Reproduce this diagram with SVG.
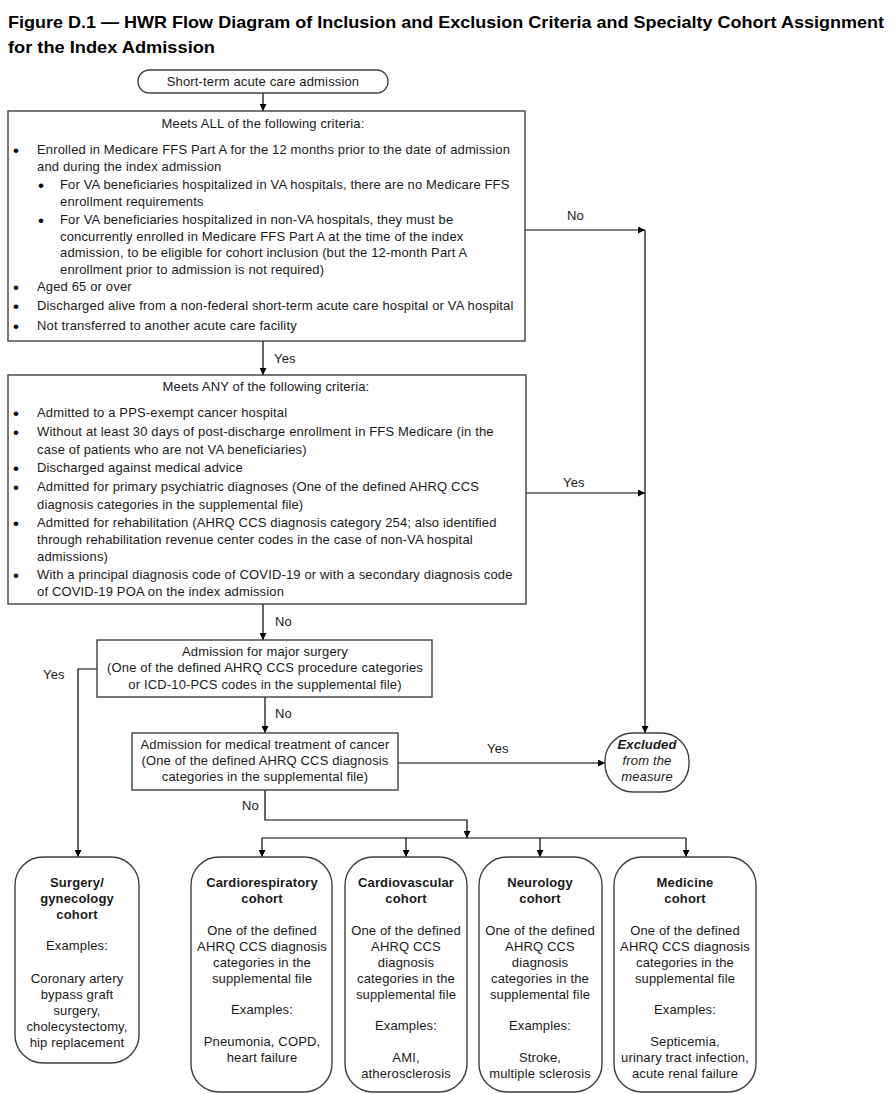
<svg xmlns="http://www.w3.org/2000/svg" width="893" height="1094" viewBox="0 0 893 1094">
<style>
text{font-family:"Liberation Sans",Arial,sans-serif;font-size:13px;letter-spacing:0.15px;fill:#1a1a1a}
.t{font-weight:bold;font-size:17px;letter-spacing:0;fill:#000}
.c{text-anchor:middle}
.b{font-weight:bold}
.i{font-style:italic}
.u{font-size:17px;letter-spacing:0;fill:#000;text-anchor:middle}
.box{fill:#fff;stroke:#404040;stroke-width:1.4}
.ln{fill:none;stroke:#000;stroke-width:1.2}
</style>
<defs>
<marker id="ah" viewBox="0 0 10 10" refX="10" refY="5" markerWidth="7" markerHeight="7" markerUnits="userSpaceOnUse" orient="auto"><path d="M0,0L10,5L0,10z" fill="#000"/></marker>
</defs>
<rect width="893" height="1094" fill="#fff"/>
<g id="title">
<text class="t" x="8" y="28" textLength="876" lengthAdjust="spacingAndGlyphs">Figure D.1 — HWR Flow Diagram of Inclusion and Exclusion Criteria and Specialty Cohort Assignment</text>
<text class="t" x="8" y="53" textLength="207" lengthAdjust="spacingAndGlyphs">for the Index Admission</text>
</g>
<g id="connectors">
<path class="ln" d="M263,93V111" marker-end="url(#ah)"/>
<path class="ln" d="M525,230H645" marker-end="url(#ah)"/>
<path class="ln" d="M645,230V733" marker-end="url(#ah)"/>
<path class="ln" d="M263,341V375" marker-end="url(#ah)"/>
<path class="ln" d="M526,493H645" marker-end="url(#ah)"/>
<path class="ln" d="M263,604V640" marker-end="url(#ah)"/>
<path class="ln" d="M97,669H78V857" marker-end="url(#ah)"/>
<path class="ln" d="M265,697V733" marker-end="url(#ah)"/>
<path class="ln" d="M398,763H605" marker-end="url(#ah)"/>
<path class="ln" d="M265,790V820H467V838" marker-end="url(#ah)"/>
<path class="ln" d="M262,838H686"/>
<path class="ln" d="M262,838V857" marker-end="url(#ah)"/>
<path class="ln" d="M406,838V857" marker-end="url(#ah)"/>
<path class="ln" d="M540,838V857" marker-end="url(#ah)"/>
<path class="ln" d="M686,838V857" marker-end="url(#ah)"/>
<text x="567" y="220">No</text>
<text x="274" y="363">Yes</text>
<text x="563" y="487">Yes</text>
<text x="275" y="626">No</text>
<text x="43" y="679">Yes</text>
<text x="275" y="718">No</text>
<text x="487" y="753">Yes</text>
<text x="242" y="810">No</text>
</g>
<g id="start">
<rect class="box" x="138" y="70" width="250" height="23" rx="11.5"/>
<text class="c" x="263" y="86">Short-term acute care admission</text>
</g>
<g id="all-criteria">
<rect class="box" x="8" y="111" width="517" height="230"/>
<text class="c" x="263" y="128">Meets ALL of the following criteria:</text>
<text class="u" x="16" y="156">•</text>
<text x="37" y="154">Enrolled in Medicare FFS Part A for the 12 months prior to the date of admission</text>
<text x="37" y="171">and during the index admission</text>
<text class="u" x="41" y="191">•</text>
<text x="60" y="189">For VA beneficiaries hospitalized in VA hospitals, there are no Medicare FFS</text>
<text x="60" y="206">enrollment requirements</text>
<text class="u" x="41" y="226">•</text>
<text x="60" y="224">For VA beneficiaries hospitalized in non-VA hospitals, they must be</text>
<text x="60" y="241">concurrently enrolled in Medicare FFS Part A at the time of the index</text>
<text x="60" y="257">admission, to be eligible for cohort inclusion (but the 12-month Part A</text>
<text x="60" y="274">enrollment prior to admission is not required)</text>
<text class="u" x="16" y="293">•</text>
<text x="37" y="291">Aged 65 or over</text>
<text class="u" x="16" y="312">•</text>
<text x="37" y="310">Discharged alive from a non-federal short-term acute care hospital or VA hospital</text>
<text class="u" x="16" y="332">•</text>
<text x="37" y="330">Not transferred to another acute care facility</text>
</g>
<g id="any-criteria">
<rect class="box" x="8" y="375" width="518" height="229"/>
<text class="c" x="266" y="391">Meets ANY of the following criteria:</text>
<text class="u" x="16" y="419">•</text>
<text x="37" y="417">Admitted to a PPS-exempt cancer hospital</text>
<text class="u" x="16" y="438">•</text>
<text x="37" y="436">Without at least 30 days of post-discharge enrollment in FFS Medicare (in the</text>
<text x="37" y="454">case of patients who are not VA beneficiaries)</text>
<text class="u" x="16" y="474">•</text>
<text x="37" y="472">Discharged against medical advice</text>
<text class="u" x="16" y="493">•</text>
<text x="37" y="491">Admitted for primary psychiatric diagnoses (One of the defined AHRQ CCS</text>
<text x="37" y="509">diagnosis categories in the supplemental file)</text>
<text class="u" x="16" y="529">•</text>
<text x="37" y="527">Admitted for rehabilitation (AHRQ CCS diagnosis category 254; also identified</text>
<text x="37" y="544">through rehabilitation revenue center codes in the case of non-VA hospital</text>
<text x="37" y="561">admissions)</text>
<text class="u" x="16" y="581">•</text>
<text x="37" y="579">With a principal diagnosis code of COVID-19 or with a secondary diagnosis code</text>
<text x="37" y="596">of COVID-19 POA on the index admission</text>
</g>
<g id="surgery">
<rect class="box" x="97" y="640" width="335" height="57"/>
<text class="c" x="265" y="656">Admission for major surgery</text>
<text class="c" x="265" y="672">(One of the defined AHRQ CCS procedure categories</text>
<text class="c" x="265" y="689">or ICD-10-PCS codes in the supplemental file)</text>
</g>
<g id="cancer">
<rect class="box" x="132" y="733" width="266" height="57"/>
<text class="c" x="265" y="749">Admission for medical treatment of cancer</text>
<text class="c" x="265" y="765">(One of the defined AHRQ CCS diagnosis</text>
<text class="c" x="265" y="781">categories in the supplemental file)</text>
</g>
<g id="excluded">
<rect class="box" x="605" y="733" width="84" height="59" rx="28"/>
<text class="c b i" x="647" y="749">Excluded</text>
<text class="c i" x="647" y="765">from the</text>
<text class="c i" x="647" y="781">measure</text>
</g>
<g id="surgery-cohort">
<rect class="box" x="15" y="857" width="124" height="206" rx="28"/>
<text class="c b" x="77" y="887">Surgery/</text>
<text class="c b" x="77" y="903">gynecology</text>
<text class="c b" x="77" y="919">cohort</text>
<text class="c" x="77" y="950">Examples:</text>
<text class="c" x="77" y="983">Coronary artery</text>
<text class="c" x="77" y="999">bypass graft</text>
<text class="c" x="77" y="1015">surgery,</text>
<text class="c" x="77" y="1031">cholecystectomy,</text>
<text class="c" x="77" y="1047">hip replacement</text>
</g>
<g id="cardiorespiratory-cohort">
<rect class="box" x="191" y="857" width="141" height="235" rx="28"/>
<text class="c b" x="262" y="887">Cardiorespiratory</text>
<text class="c b" x="262" y="903">cohort</text>
<text class="c" x="262" y="935">One of the defined</text>
<text class="c" x="262" y="951">AHRQ CCS diagnosis</text>
<text class="c" x="262" y="967">categories in the</text>
<text class="c" x="262" y="983">supplemental file</text>
<text class="c" x="262" y="1014">Examples:</text>
<text class="c" x="262" y="1046">Pneumonia, COPD,</text>
<text class="c" x="262" y="1062">heart failure</text>
</g>
<g id="cardiovascular-cohort">
<rect class="box" x="345" y="857" width="122" height="235" rx="28"/>
<text class="c b" x="406" y="887">Cardiovascular</text>
<text class="c b" x="406" y="903">cohort</text>
<text class="c" x="406" y="935">One of the defined</text>
<text class="c" x="406" y="951">AHRQ CCS</text>
<text class="c" x="406" y="967">diagnosis</text>
<text class="c" x="406" y="983">categories in the</text>
<text class="c" x="406" y="999">supplemental file</text>
<text class="c" x="406" y="1030">Examples:</text>
<text class="c" x="406" y="1062">AMI,</text>
<text class="c" x="406" y="1078">atherosclerosis</text>
</g>
<g id="neurology-cohort">
<rect class="box" x="479" y="857" width="123" height="235" rx="28"/>
<text class="c b" x="540" y="887">Neurology</text>
<text class="c b" x="540" y="903">cohort</text>
<text class="c" x="540" y="935">One of the defined</text>
<text class="c" x="540" y="951">AHRQ CCS</text>
<text class="c" x="540" y="967">diagnosis</text>
<text class="c" x="540" y="983">categories in the</text>
<text class="c" x="540" y="999">supplemental file</text>
<text class="c" x="540" y="1030">Examples:</text>
<text class="c" x="540" y="1062">Stroke,</text>
<text class="c" x="540" y="1078">multiple sclerosis</text>
</g>
<g id="medicine-cohort">
<rect class="box" x="614" y="857" width="142" height="235" rx="28"/>
<text class="c b" x="685" y="887">Medicine</text>
<text class="c b" x="685" y="903">cohort</text>
<text class="c" x="685" y="935">One of the defined</text>
<text class="c" x="685" y="951">AHRQ CCS diagnosis</text>
<text class="c" x="685" y="967">categories in the</text>
<text class="c" x="685" y="983">supplemental file</text>
<text class="c" x="685" y="1014">Examples:</text>
<text class="c" x="685" y="1046">Septicemia,</text>
<text class="c" x="685" y="1062">urinary tract infection,</text>
<text class="c" x="685" y="1078">acute renal failure</text>
</g>
</svg>
